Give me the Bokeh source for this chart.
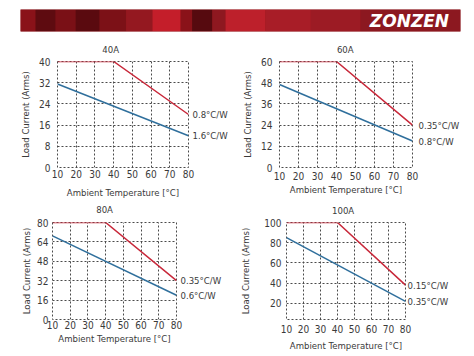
from bokeh.plotting import figure
from bokeh.layouts import column, row
from bokeh.models import Label, FixedTicker, Range1d, LinearAxis
from bokeh.embed import file_html
from bokeh.resources import INLINE

# ---------------- data ----------------
x_ticks = [10, 20, 30, 40, 50, 60, 70, 80]
red_x = [10, 40, 80]
blue_x = [10, 80]

titles = ["40A", "60A", "80A", "100A"]
title_x = [38.4, 44.6, 39.4, 43.3]
red_y = [[40, 40, 20], [60, 60, 24], [80, 80, 32], [100, 100, 38]]
blue_y = [[31.5, 12], [47, 15], [69, 20], [85, 22]]
red_labels = ["0.8°C/W", "0.35°C/W", "0.35°C/W", "0.15°C/W"]
blue_labels = ["1.6°C/W", "0.8°C/W", "0.6°C/W", "0.35°C/W"]
y_ticks = [[0, 8, 16, 24, 32, 40], [0, 12, 24, 36, 48, 60],
           [0, 16, 32, 48, 64, 80], [20, 40, 60, 80, 100]]
y_ranges = [(0, 40), (0, 60), (0, 80), (4, 100)]

FONT = "DejaVu Sans Condensed"
TXT = "#3a3a3a"
RED = "#c8283a"
BLUE = "#2f6f9c"
GRID = "#4a4a4a"

# per panel: (width, height, left, right, top, bottom,
#             x tick standoff, x label standoff, y tick standoff, y label standoff,
#             title standoff, right label standoff)
panel_style = [
    (237, 160, 57, 49, 19, 30, 2, 6, 7, 5, 7, 4),
    (237, 160, 42, 62, 21, 27, 4, 1, 7, 5, 7, 6),
    (237, 156, 52, 61, 22, 28, 1, 1, 4, 2, 8, 4),
    (237, 156, 48, 69, 19, 37, 5, 4, 5, 10, 7, 2),
]


def style_axis(ax, tick_size="10px", label_size="9.5px"):
    ax.axis_line_color = None
    ax.major_tick_line_color = None
    ax.minor_tick_line_color = None
    ax.major_tick_out = 0
    ax.major_tick_in = 0
    ax.minor_tick_out = 0
    ax.minor_tick_in = 0
    ax.major_label_text_font = FONT
    ax.major_label_text_font_size = tick_size
    ax.major_label_text_color = TXT
    ax.axis_label_text_font = FONT
    ax.axis_label_text_font_size = label_size
    ax.axis_label_text_font_style = "normal"
    ax.axis_label_text_color = TXT


def make_panel(i):
    w, h, bl, br, bt, bb, txs, lxs, tys, lys, tts, rls = panel_style[i]
    p = figure(width=w, height=h, output_backend="svg", toolbar_location=None,
               x_range=Range1d(10, 80), y_range=Range1d(*y_ranges[i]),
               min_border_left=bl, min_border_right=br,
               min_border_top=bt, min_border_bottom=bb,
               background_fill_color="white", border_fill_color="white")
    p.outline_line_color = GRID
    p.outline_line_dash = "2 2"
    p.outline_line_width = 1
    style_axis(p.xaxis[0])
    style_axis(p.yaxis[0])
    p.xaxis.ticker = FixedTicker(ticks=x_ticks)
    p.yaxis.ticker = FixedTicker(ticks=y_ticks[i])
    p.xaxis.axis_label = "Ambient Temperature [°C]"
    p.yaxis.axis_label = "Load Current (Arms)"
    p.xaxis.major_label_standoff = txs
    p.xaxis.axis_label_standoff = lxs
    p.yaxis.major_label_standoff = tys
    p.yaxis.axis_label_standoff = lys
    for g in (p.xgrid[0], p.ygrid[0]):
        g.grid_line_color = GRID
        g.grid_line_dash = "2 2"
        g.grid_line_width = 1

    p.line(red_x, red_y[i], line_color=RED, line_width=1.5)
    p.line(blue_x, blue_y[i], line_color=BLUE, line_width=1.5)

    # series labels at the right end of each curve
    ends = [red_y[i][-1], blue_y[i][-1]]
    rax = LinearAxis(ticker=FixedTicker(ticks=ends),
                     major_label_overrides={ends[0]: red_labels[i], ends[1]: blue_labels[i]})
    style_axis(rax, tick_size="9.5px")
    rax.major_label_standoff = rls
    p.add_layout(rax, "right")

    # panel title above the frame
    tax = LinearAxis(ticker=FixedTicker(ticks=[title_x[i]]),
                     major_label_overrides={title_x[i]: titles[i]})
    style_axis(tax, tick_size="9.5px")
    tax.major_label_standoff = tts
    p.add_layout(tax, "above")
    return p


# ---------------- header banner ----------------
stripe_left = [0.0, 0.034, 0.08, 0.125, 0.18, 0.24, 0.30, 0.364, 0.39, 0.436, 0.466, 0.557, 0.66, 0.773]
stripe_right = [0.034, 0.08, 0.125, 0.18, 0.24, 0.30, 0.364, 0.39, 0.436, 0.466, 0.557, 0.66, 0.773, 1.0]
stripe_color = ["#8a1219", "#5e0b10", "#7a1016", "#5a0a0f", "#7c1117", "#941820", "#c41e2a",
                "#8a1219", "#560a0f", "#8e1820", "#bd202b", "#a81d27", "#9c1b24", "#8c1820"]

header = figure(width=474, height=40, output_backend="svg", toolbar_location=None,
                x_range=Range1d(0, 1), y_range=Range1d(0, 1),
                x_axis_type=None, y_axis_type=None,
                min_border_left=20, min_border_right=14, min_border_top=9, min_border_bottom=9,
                background_fill_color="#8c171c", border_fill_color="white")
header.outline_line_color = None
header.xgrid.visible = False
header.ygrid.visible = False
header.quad(left=stripe_left, right=stripe_right, bottom=0, top=1,
            fill_color=stripe_color, line_color=None)
header.add_layout(Label(x=0.884, y=0.5, text="ZONZEN", text_font="DejaVu Sans",
                        text_font_size="17px", text_font_style="bold italic",
                        text_color="white", text_align="center", text_baseline="middle"))

panels = [make_panel(i) for i in range(4)]
layout = column(header, row(panels[0], panels[1]), row(panels[2], panels[3]))

open("out.html", "w").write(file_html(layout, INLINE))
